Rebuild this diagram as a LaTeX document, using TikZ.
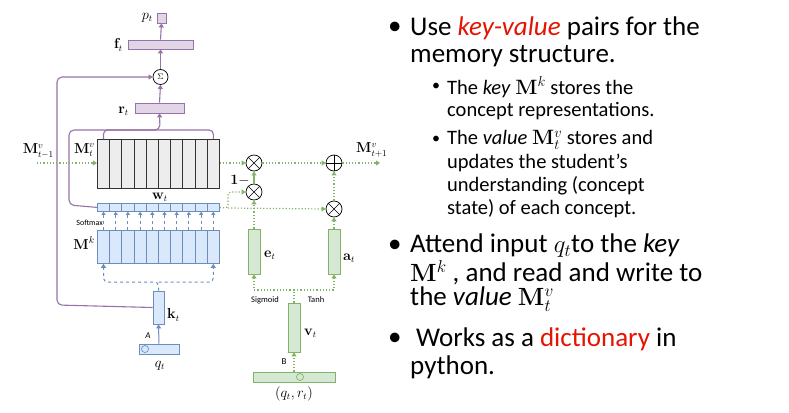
\documentclass[tikz,border=0pt]{standalone}
\usepackage{amsmath}
\usepackage[no-math]{fontspec}
\setmainfont{Carlito}
\usetikzlibrary{arrows.meta}
\definecolor{pu}{HTML}{9673A6}\definecolor{puf}{HTML}{E1D5E7}
\definecolor{bl}{HTML}{6C8EBF}\definecolor{blf}{HTML}{DAE8FC}
\definecolor{gr}{HTML}{82B366}\definecolor{grf}{HTML}{D5E8D4}
\definecolor{dr}{HTML}{E51400}
\tikzset{
 pbox/.style={draw=pu,fill=puf,line width=0.8pt},
 bbox/.style={draw=bl,fill=blf,line width=0.8pt},
 gbox/.style={draw=gr,fill=grf,line width=0.8pt},
 kbox/.style={draw=black!80,fill=black!7,line width=0.8pt},
 parr/.style={draw=pu,line width=1.1pt,-{Triangle[width=5pt,length=4pt]},rounded corners=5pt},
 barr/.style={draw=bl,line width=1pt,-{Triangle[width=5pt,length=4pt]}},
 garr/.style={draw=gr,line width=1.2pt,dotted,-{Triangle[width=5pt,length=4pt]}},
 opc/.style={circle,draw,line width=0.7pt,minimum size=16pt,inner sep=0pt},
 lab/.style={inner sep=0pt,font=\fontsize{13.5}{14}\selectfont},
 tx/.style={anchor=west,inner sep=0pt,font=\fontsize{27}{30}\selectfont},
 sx/.style={anchor=west,inner sep=0pt,font=\fontsize{20.5}{23}\selectfont},
 bu/.style={anchor=west,inner sep=0pt,font=\fontsize{16}{18}\selectfont},
}
\begin{document}
\begin{tikzpicture}[x=1pt,y=-1pt]
\useasboundingbox[fill=white] (0,0) rectangle (789,412);
% purple
\node[pbox,minimum width=9pt,minimum height=10pt,inner sep=0pt] (p) at (161.5,18) {};
\node[lab,anchor=east] at (153,18) {$p_t$};
\node[pbox,minimum width=65pt,minimum height=9pt,inner sep=0pt] (f) at (160.5,44.5) {};
\node[lab,anchor=east] at (123,45) {$\mathbf{f}_t$};
\node[opc,minimum size=15pt] (sig) at (160.5,77) {\footnotesize$\Sigma$};
\node[pbox,minimum width=49pt,minimum height=10pt,inner sep=0pt] (r) at (159.5,108) {};
\node[lab,anchor=east] at (129,111) {$\mathbf{r}_t$};
\draw[parr] (f.north) -- (p.south);
\draw[parr] (sig.north) -- (f.south);
\draw[parr] (r.north) -- (sig.south);
% memory value
\foreach \i in {0,...,9}{
 \node[kbox,minimum width=12.2pt,minimum height=49pt,inner sep=0pt,anchor=north west] (v\i) at (97+\i*12.2,139) {};
 \node[bbox,minimum width=12.2pt,minimum height=8pt,inner sep=0pt,anchor=north west] (w\i) at (97+\i*12.2,203) {};
 \node[bbox,minimum width=12.2pt,minimum height=33pt,inner sep=0pt,anchor=north west] (m\i) at (97+\i*12.2,230) {};
 \draw[bl,line width=0.9pt,dashed,-{Triangle[width=4pt,length=3pt]}] (m\i.north) -- (w\i.south);
}
\node[lab,anchor=east] at (95,150) {$\mathbf{M}_t^v$};
\node[lab,anchor=east] at (54,151) {$\mathbf{M}_{t-1}^v$};
\node[lab] at (160,197) {$\mathbf{w}_t$};
\node[lab,anchor=east,font=\fontsize{8}{8}\selectfont] at (103,223) {Softmax};
\node[lab,anchor=east,font=\fontsize{14}{14}\selectfont] at (95,243) {$\mathbf{M}^k$};
% bracket
\draw[pu,line width=1.1pt,rounded corners=4pt] (v0.north) -- (v0.north|-0,130) -- (v9.north|-0,130) -- (v9.north);
\draw[parr] (w0.west) -- (69,205) -- (69,130) -- (160,130) -- (r.south);
% key
\node[bbox,minimum width=11pt,minimum height=33pt,inner sep=0pt] (k) at (158.5,307.5) {};
\node[lab,anchor=west] at (167,315) {$\mathbf{k}_t$};
\node[bbox,minimum width=40pt,minimum height=10pt,inner sep=0pt] (q) at (159,349) {};
\draw[bl,line width=0.7pt] (145,349) circle (3.5pt);
\node[lab] at (160,366) {$q_t$};
\node[lab,font=\fontsize{9}{9}\selectfont\itshape] at (148,336) {A};
\draw[barr] (q.north) -- (k.south);
\draw[bl,line width=1pt,dashed,rounded corners=4pt,-{Triangle[width=5pt,length=4pt]}] (k.north) -- (158.5,282) -- (m0.south|-0,282) -- (m0.south);
\draw[bl,line width=1pt,dashed,rounded corners=4pt,-{Triangle[width=5pt,length=4pt]}] (158.5,282) -- (m9.south|-0,282) -- (m9.south);
\draw[parr] (k.west) -- (57,305) -- (57,77) -- (sig.west);
% green ops
\node[opc] (o1) at (254,163) {};
\draw (o1.north west)--(o1.south east) (o1.north east)--(o1.south west);
\node[opc] (o2) at (254,192) {};
\draw (o2.north west)--(o2.south east) (o2.north east)--(o2.south west);
\node[opc] (o3) at (334,209) {};
\draw (o3.north west)--(o3.south east) (o3.north east)--(o3.south west);
\node[opc] (pl) at (334,163) {};
\draw (pl.north)--(pl.south) (pl.west)--(pl.east);
\node[lab,anchor=west] at (356,150) {$\mathbf{M}_{t+1}^v$};
\node[lab] at (240,180) {$\mathbf{1}-$};
\draw[garr] (37,163) -- (v0.west|-0,163);
\draw[garr] (v9.east|-0,163) -- (o1.west);
\draw[garr] (o1.east) -- (pl.west);
\draw[garr] (pl.east) -- (380,163);
\draw[gr,line width=1.2pt,-{Triangle[width=5pt,length=4pt]}] (o2.north) -- (o1.south);
\draw[garr] (o3.north) -- (pl.south);
\draw[garr,rounded corners=3pt] (w9.east) -- (228,208) -- (228,192) -- (o2.west);
\draw[garr] (228,208) -- (o3.west);
% e, a, v
\node[gbox,minimum width=12pt,minimum height=45pt,inner sep=0pt] (e) at (254,251.5) {};
\node[lab,anchor=west] at (264,255) {$\mathbf{e}_t$};
\node[gbox,minimum width=12pt,minimum height=45pt,inner sep=0pt] (a) at (334,251.5) {};
\node[lab,anchor=west] at (343,258) {$\mathbf{a}_t$};
\draw[garr] (e.north) -- (o2.south);
\draw[garr] (a.north) -- (o3.south);
\node[gbox,minimum width=12pt,minimum height=49pt,inner sep=0pt] (v) at (294,327.5) {};
\node[lab,anchor=west] at (304,333) {$\mathbf{v}_t$};
\draw[garr] (v.north) -- (294,290) -- (254,290) -- (e.south);
\draw[garr] (294,290) -- (334,290) -- (a.south);
\node[lab,font=\fontsize{8.5}{9}\selectfont] at (265,300) {Sigmoid};
\node[lab,font=\fontsize{8.5}{9}\selectfont] at (316,300) {Tanh};
\node[gbox,minimum width=82pt,minimum height=10pt,inner sep=0pt] (qr) at (294,377) {};
\draw[gr,line width=0.7pt] (300,377) circle (3.5pt);
\node[lab] at (294,394) {$(q_t,r_t)$};
\node[lab,font=\fontsize{9}{9}\selectfont] at (284,362) {B};
\draw[garr] (qr.north) -- (v.south);
% text
\node[tx] at (388,28) {•};
\node[tx] (t1) at (410,28) {Use \textcolor{dr}{\textit{key-value}} pairs for the};
\node[tx] at (410,56) {memory structure.};
\node[bu] at (432,87) {•};
\node[sx] at (447,87) {The \textit{key} $\mathbf{M}^k$ stores the};
\node[sx] at (447,111) {concept representations.};
\node[bu] at (432,140) {•};
\node[sx] at (447,140) {The \textit{value} $\mathbf{M}_t^v$ stores and};
\node[sx] at (447,163) {updates the student's};
\node[sx] at (447,186) {understanding (concept};
\node[sx] at (447,209) {state) of each concept.};
\node[tx] at (388,246) {•};
\node[tx] at (410,246) {Attend input $q_t$to the \textit{key}};
\node[tx] at (410,273) {$\mathbf{M}^k$ , and read and write to};
\node[tx] at (410,299) {the \textit{value} $\mathbf{M}_t^v$};
\node[tx] at (388,339) {•};
\node[tx] at (416,339) {Works as a \textcolor{dr}{dictionary} in};
\node[tx] at (410,367) {python.};
\end{tikzpicture}
\end{document}
